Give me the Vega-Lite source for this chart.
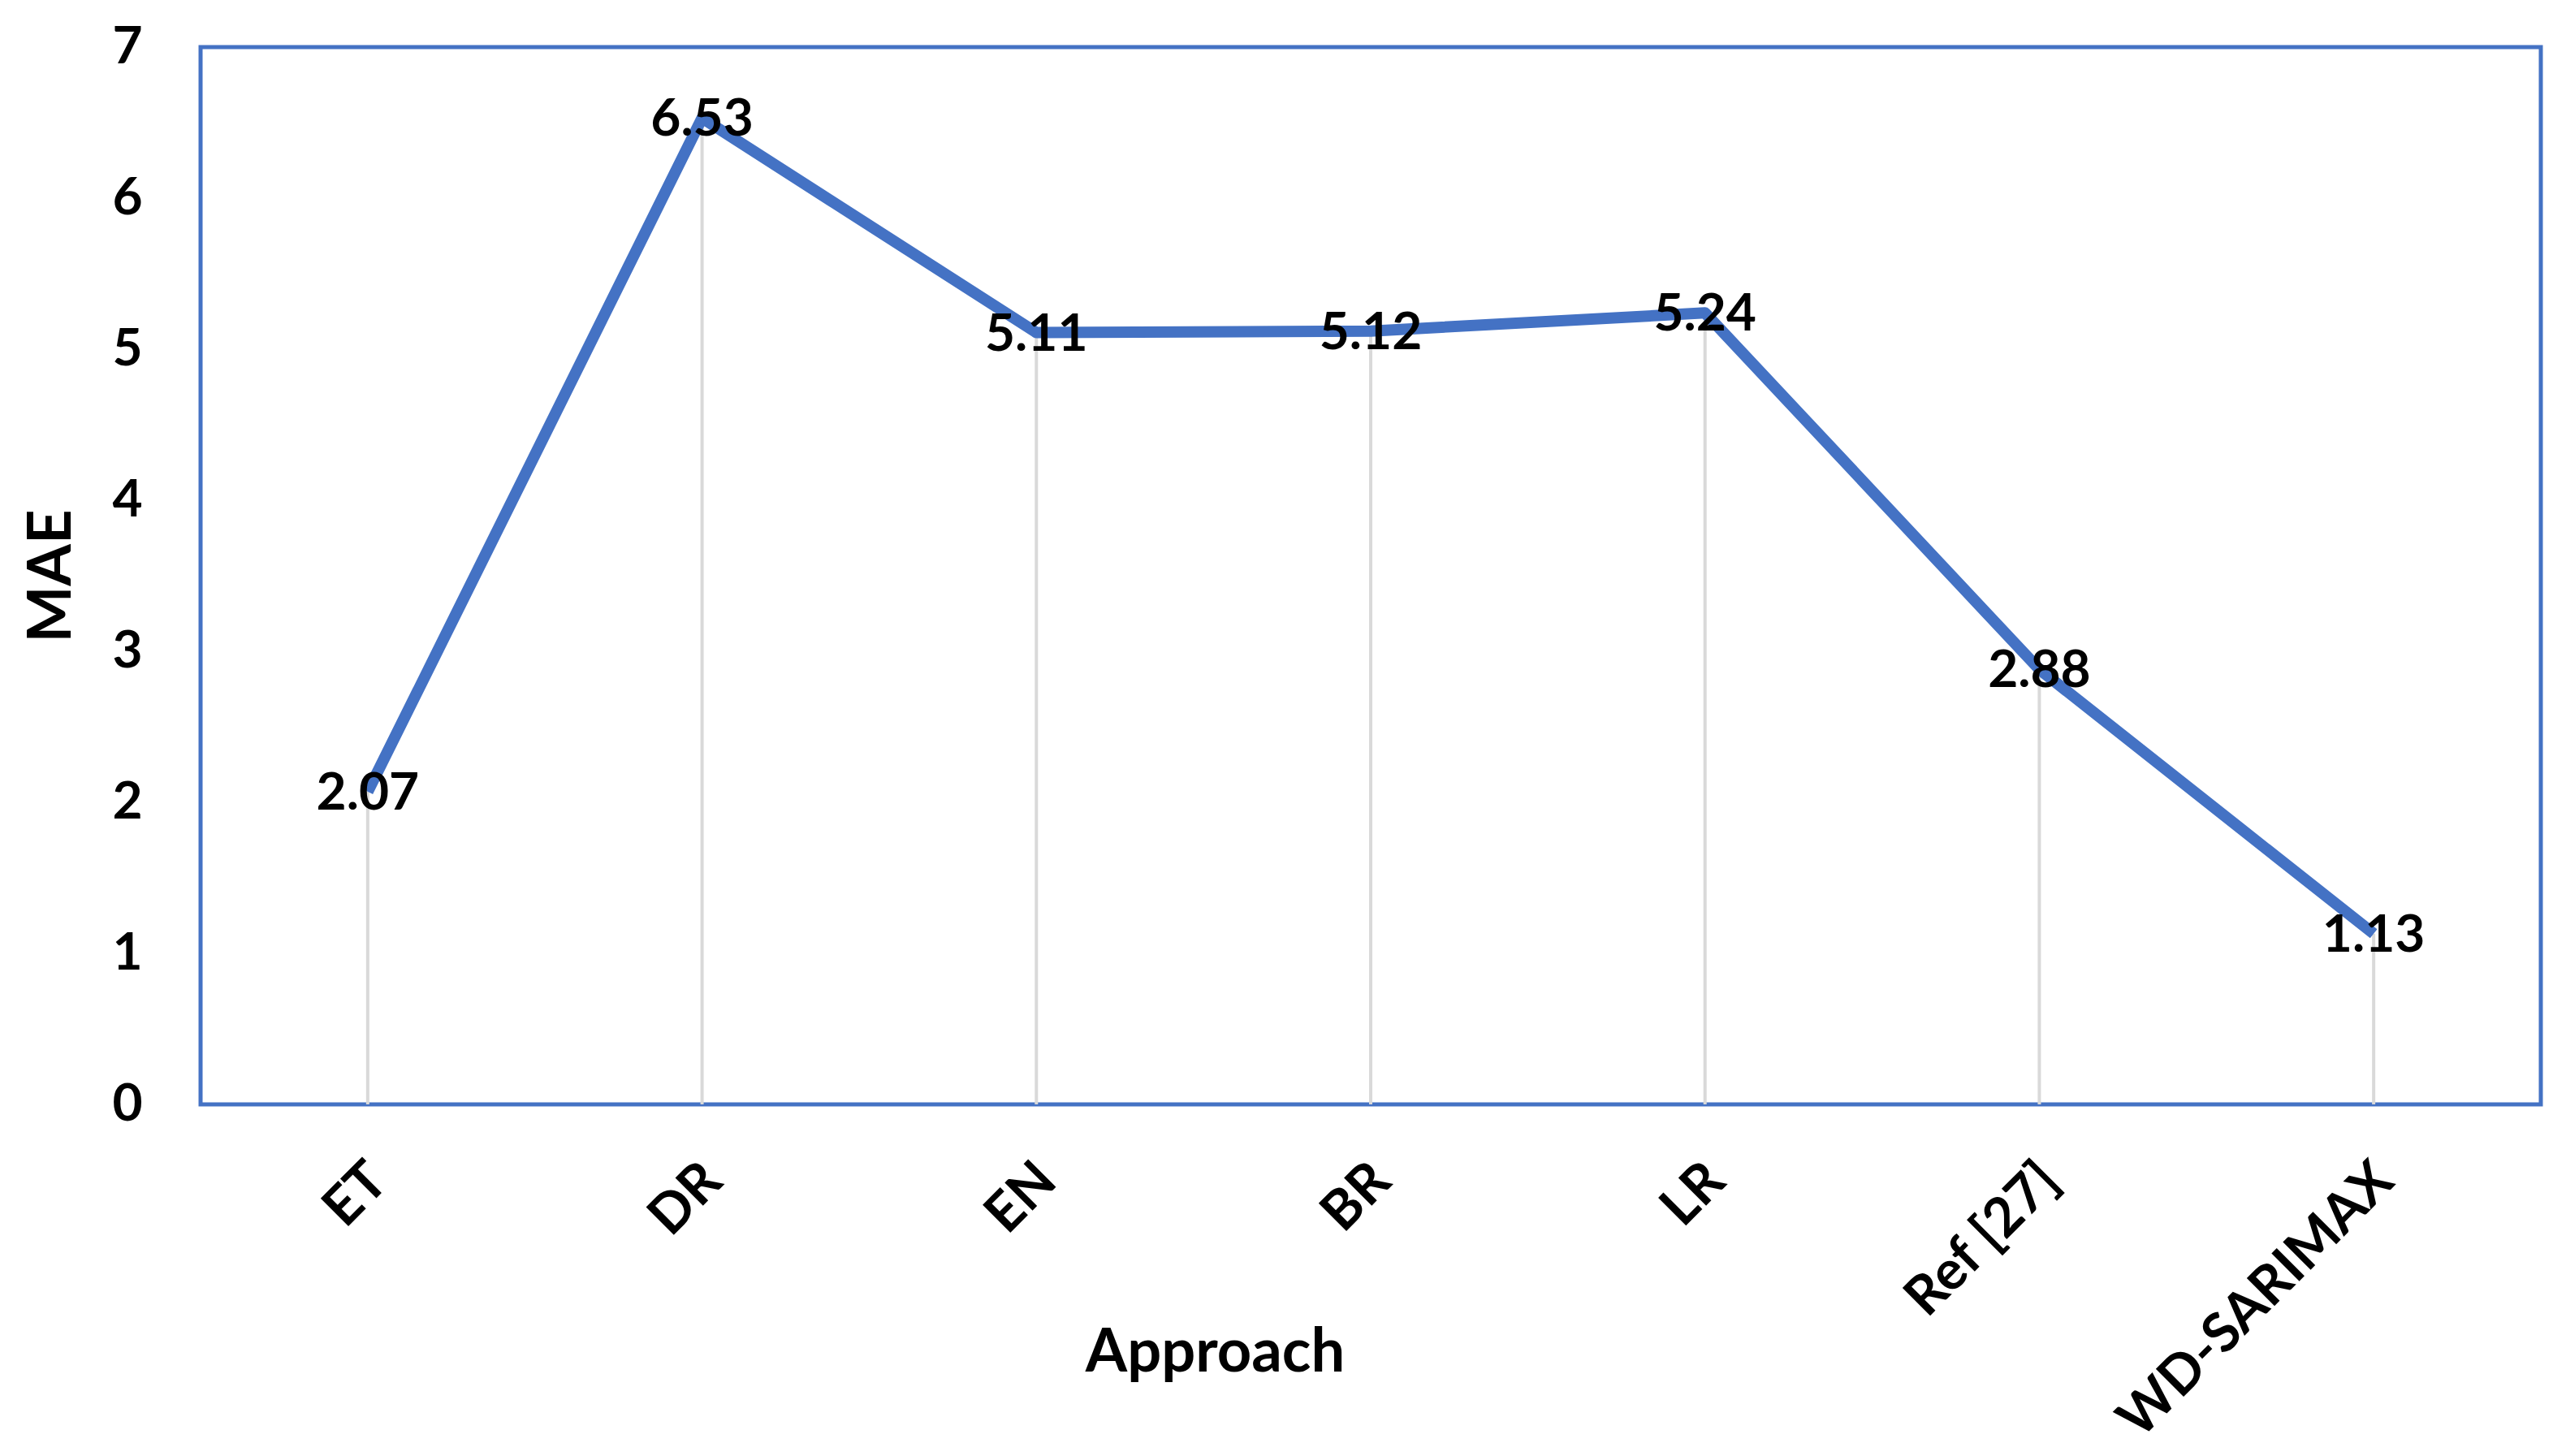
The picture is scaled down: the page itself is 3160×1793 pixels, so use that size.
{
  "$schema": "https://vega.github.io/schema/vega-lite/v6.json",
  "autosize": {"type": "none"},
  "width": 2882,
  "height": 1302,
  "padding": {"left": 247, "top": 58, "right": 31, "bottom": 433},
  "background": "white",
  "config": {
    "font": "Lato",
    "view": {"stroke": "#4472C4", "strokeWidth": 5}
  },
  "data": {
    "values": [
      {"approach": "ET", "mae": 2.07},
      {"approach": "DR", "mae": 6.53},
      {"approach": "EN", "mae": 5.11},
      {"approach": "BR", "mae": 5.12},
      {"approach": "LR", "mae": 5.24},
      {"approach": "Ref [27]", "mae": 2.88},
      {"approach": "WD-SARIMAX", "mae": 1.13}
    ]
  },
  "encoding": {
    "x": {
      "field": "approach",
      "type": "nominal",
      "sort": null,
      "scale": {"type": "point", "padding": 0.5},
      "axis": {
        "title": "Approach",
        "titleFont": "Lato",
        "titleFontSize": 74,
        "titleFontWeight": "bold",
        "titleColor": "black",
        "titleX": 1249,
        "titleY": 306,
        "titleAlign": "center",
        "titleBaseline": "middle",
        "labelAngle": -45,
        "labelFont": "Lato",
        "labelFontSize": 67,
        "labelFontWeight": "bold",
        "labelColor": "black",
        "labelPadding": 60,
        "labelLimit": 0,
        "labelOverlap": false,
        "labelOffset": -10,
        "ticks": false,
        "domain": false,
        "grid": false
      }
    },
    "y": {
      "field": "mae",
      "type": "quantitative",
      "scale": {"domain": [0, 7], "nice": false},
      "axis": {
        "title": "MAE",
        "titleFont": "Lato",
        "titleFontSize": 74,
        "titleFontWeight": "bold",
        "titleColor": "black",
        "titleAngle": -90,
        "titleX": -183,
        "titleY": 651,
        "titleAlign": "center",
        "titleBaseline": "middle",
        "values": [0, 1, 2, 3, 4, 5, 6, 7],
        "labelFont": "Lato",
        "labelFontSize": 64,
        "labelFontWeight": "bold",
        "labelColor": "black",
        "labelPadding": 72,
        "ticks": false,
        "domain": false,
        "grid": false
      }
    }
  },
  "layer": [
    {
      "mark": {"type": "rule", "color": "#d9d9d9", "strokeWidth": 4},
      "encoding": {"y2": {"datum": 0}}
    },
    {
      "mark": {"type": "line", "color": "#4472C4", "strokeWidth": 14, "strokeJoin": "round", "strokeCap": "butt"}
    },
    {
      "mark": {"type": "text", "font": "Lato", "fontSize": 64, "fontWeight": "bold", "color": "black", "align": "center", "baseline": "middle", "dy": 3},
      "encoding": {"text": {"field": "mae", "type": "quantitative", "format": ".2f"}}
    }
  ]
}
